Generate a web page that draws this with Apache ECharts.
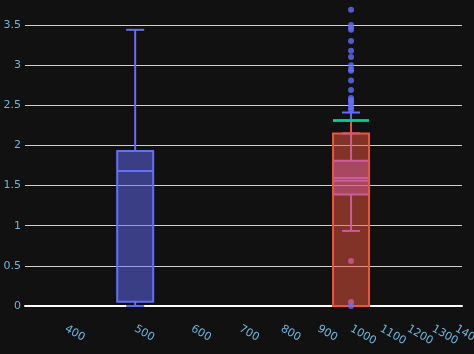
<!DOCTYPE html>
<html>
<head>
<meta charset="utf-8">
<script src="https://cdn.jsdelivr.net/npm/echarts@6/dist/echarts.min.js"></script>
<style>
  html, body { margin: 0; padding: 0; background: #111111; }
  #chart { width: 474px; height: 354px; }
</style>
</head>
<body>
<div id="chart"></div>
<script>
// x tick labels (log axis)
var xTicks = [400, 500, 600, 700, 800, 900, 1000, 1100, 1200, 1300, 1400]
var yTicks = [0, 0.5, 1, 1.5, 2, 2.5, 3, 3.5]

// box stats: [x, lowerWhisker, q1, median, q3, upperWhisker, mean?]
var blueBox500 = [[500, 0, 0.054, 1.68, 1.93, 3.44]]
var redBox1000 = [[1000, 0, 0, 0, 2.15, 2.31]]
var purpleBox1000 = [[1000, 0.935, 1.39, 1.595, 1.81, 2.15, 1.56]]
var blueBox1000 = [[1000, 2.31, 2.31, 2.31, 2.31, 2.41]]
var greenBox1000 = [[1000, 2.31, 2.31, 2.31, 2.31, 2.31]]

// outliers
var blueOutliers = [3.69, 3.50, 3.47, 3.44, 3.30, 3.18, 3.10, 3.00, 2.95, 2.93, 2.81,
  2.69, 2.59, 2.57, 2.55, 2.53, 2.49, 2.46, 2.44, 0.0]
var purpleOutliers = [0.56, 0.05]

var colors = {
  blue: '#636efa',
  red: '#EF553B',
  green: '#00cc96',
  purple: '#ab63fa'
}

function fade(hex, a) {
  var n = parseInt(hex.slice(1), 16)
  return 'rgba(' + (n >> 16) + ',' + ((n >> 8) & 255) + ',' + (n & 255) + ',' + a + ')'
}

// draws one plotly-style box: half-width caps on the whiskers
function boxRenderer(color) {
  return function (params, api) {
    var x = api.value(0)
    var lo = api.coord([x, api.value(1)])
    var q1 = api.coord([x, api.value(2)])
    var md = api.coord([x, api.value(3)])
    var q3 = api.coord([x, api.value(4)])
    var hi = api.coord([x, api.value(5)])
    var mean = api.value(6)
    var cx = lo[0]
    var hw = 18
    var cw = 9
    function ln(x1, y1, x2, y2) {
      return { type: 'line', shape: { x1: x1, y1: y1, x2: x2, y2: y2 }, style: { stroke: color, lineWidth: 2 } }
    }
    var kids = []
    if (hi[1] < q3[1]) {
      kids.push(ln(cx, q3[1], cx, hi[1]))
      kids.push(ln(cx - cw, hi[1], cx + cw, hi[1]))
    }
    if (lo[1] > q1[1]) {
      kids.push(ln(cx, q1[1], cx, lo[1]))
      kids.push(ln(cx - cw, lo[1], cx + cw, lo[1]))
    }
    kids.push({
      type: 'rect',
      shape: { x: cx - hw, y: q3[1], width: hw * 2, height: q1[1] - q3[1] },
      style: { fill: fade(color, 0.5), stroke: color, lineWidth: 2 }
    })
    kids.push(ln(cx - hw, md[1], cx + hw, md[1]))
    if (mean != null && !isNaN(mean)) {
      var mn = api.coord([x, mean])
      kids.push(ln(cx - hw, mn[1], cx + hw, mn[1]))
    }
    return { type: 'group', children: kids }
  }
}

function boxSeries(data, color, z) {
  return {
    type: 'custom',
    data: data,
    renderItem: boxRenderer(color),
    encode: { x: 0, y: [1, 2, 3, 4, 5] },
    clip: false,
    z: z
  }
}

function pts(vals) {
  return vals.map(function (v) { return [1000, v] })
}

var chart = echarts.init(document.getElementById('chart'))
chart.setOption({
  backgroundColor: '#111111',
  animation: false,
  grid: { left: 25, right: 12, top: 25, bottom: 48, outerBoundsMode: 'none', containLabel: false },
  xAxis: {
    type: 'log',
    logBase: 10,
    min: 351,
    max: 1428,
    axisLine: { show: true, lineStyle: { color: '#ffffff', width: 2 } },
    axisTick: { show: false },
    splitLine: { show: false },
    minorSplitLine: { show: false },
    axisLabel: {
      customValues: xTicks,
      rotate: -30,
      margin: 22,
      color: '#6ab7df',
      fontSize: 11,
      fontFamily: 'DejaVu Sans',
      formatter: function (v) { return String(Math.round(v)) }
    }
  },
  yAxis: {
    type: 'value',
    min: 0,
    max: 3.5,
    interval: 0.5,
    axisLine: { show: false },
    axisTick: { show: false },
    splitLine: { lineStyle: { color: '#cfcfcf', width: 1 } },
    axisLabel: {
      margin: 4,
      color: '#6ab7df',
      fontSize: 11,
      fontFamily: 'DejaVu Sans',
      formatter: function (v) { return yTicks.indexOf(v) >= 0 ? String(v) : '' }
    }
  },
  series: [
    boxSeries(blueBox500, colors.blue, 2),
    // purple trace sits under the red one, so it shows pink
    {
      type: 'scatter',
      data: pts(purpleOutliers),
      symbolSize: 6,
      itemStyle: { color: colors.purple },
      clip: false,
      z: 2
    },
    boxSeries(purpleBox1000, colors.purple, 2),
    boxSeries(redBox1000, colors.red, 3),
    boxSeries(blueBox1000, colors.blue, 4),
    boxSeries(greenBox1000, colors.green, 5),
    {
      type: 'scatter',
      data: pts(blueOutliers),
      symbolSize: 6,
      itemStyle: { color: colors.blue },
      clip: false,
      z: 6
    }
  ]
})
</script>
</body>
</html>
